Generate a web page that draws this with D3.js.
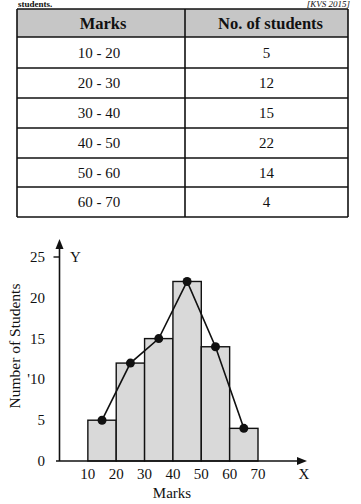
<!DOCTYPE html>
<html>
<head>
<meta charset="utf-8">
<script src="https://cdn.jsdelivr.net/npm/d3@7"></script>
<style>
  html, body { margin: 0; padding: 0; background: #fff; }
  svg { display: block; }
  text { font-family: "Liberation Serif", "DejaVu Serif", serif; fill: #111; }
</style>
</head>
<body>
<svg id="chart" width="361" height="504"></svg>
<script>
// ---- data ----
const classLabels = ["10 - 20", "20 - 30", "30 - 40", "40 - 50", "50 - 60", "60 - 70"];
const lowerLimits = [10, 20, 30, 40, 50, 60];
const upperLimits = [20, 30, 40, 50, 60, 70];
const students = [5, 12, 15, 22, 14, 4];
const tableHeaders = ["Marks", "No. of students"];
const xTickValues = [10, 20, 30, 40, 50, 60, 70];
const yTickValues = [0, 5, 10, 15, 20, 25];
const yTickLabels = ["0", "5", "'10", "15", "20", "25"];

const svg = d3.select("#chart");

// ---- top text (cut off in the source scan) ----
svg.append("text").attr("x", 18).attr("y", 7).attr("font-size", 9).attr("font-weight", "bold")
  .text("students.");
svg.append("text").attr("x", 350).attr("y", 7).attr("font-size", 9).attr("font-style", "italic")
  .attr("text-anchor", "end").text("[KVS 2015]");

// ---- table ----
const tX = d3.scaleLinear().domain([0, 1, 2]).range([17, 185, 348]);
const rowEdges = [9, 37, 68, 98, 128, 158, 187, 217];
const tY = d3.scaleLinear().domain(d3.range(rowEdges.length)).range(rowEdges);
const table = svg.append("g");

table.append("rect").attr("x", tX(0)).attr("y", tY(0)).attr("width", tX(2) - tX(0))
  .attr("height", tY(1) - tY(0)).attr("fill", "#c6c6c6");

table.selectAll("line.h").data(d3.range(rowEdges.length)).join("line")
  .attr("x1", tX(0)).attr("x2", tX(2)).attr("y1", i => tY(i)).attr("y2", i => tY(i))
  .attr("stroke", "#111").attr("stroke-width", 1.6);
table.selectAll("line.v").data([0, 1, 2]).join("line")
  .attr("x1", i => tX(i)).attr("x2", i => tX(i)).attr("y1", tY(0)).attr("y2", tY(rowEdges.length - 1))
  .attr("stroke", "#111").attr("stroke-width", 1.6);

const colMid = i => (tX(i) + tX(i + 1)) / 2;
table.selectAll("text.hdr").data(tableHeaders).join("text")
  .attr("x", (d, i) => colMid(i) + (i === 0 ? 2 : 4)).attr("y", (tY(0) + tY(1)) / 2 + 6)
  .attr("text-anchor", "middle").attr("font-size", 16.5).attr("font-weight", "bold").text(d => d);
table.selectAll("text.c1").data(classLabels).join("text")
  .attr("x", colMid(0) - 2).attr("y", (d, i) => (tY(i + 1) + tY(i + 2)) / 2 + 5)
  .attr("text-anchor", "middle").attr("font-size", 15).text(d => d);
table.selectAll("text.c2").data(students).join("text")
  .attr("x", colMid(1)).attr("y", (d, i) => (tY(i + 1) + tY(i + 2)) / 2 + 5)
  .attr("text-anchor", "middle").attr("font-size", 15).text(d => d);

// ---- histogram ----
const x = d3.scaleLinear().domain([0, 70]).range([59.5, 258]);
const y = d3.scaleLinear().domain([0, 25]).range([461, 257]);
const g = svg.append("g");

g.selectAll("rect.bar").data(students).join("rect")
  .attr("x", (d, i) => x(lowerLimits[i])).attr("y", d => y(d))
  .attr("width", (d, i) => x(upperLimits[i]) - x(lowerLimits[i]))
  .attr("height", d => y(0) - y(d))
  .attr("fill", "#d9d9d9").attr("stroke", "#111").attr("stroke-width", 1.4);

g.append("line").attr("x1", 56).attr("x2", 300).attr("y1", y(0)).attr("y2", y(0))
  .attr("stroke", "#111").attr("stroke-width", 1.6);
g.append("path").attr("d", `M307,${y(0)} L297,${y(0) - 4} L297,${y(0) + 4} Z`).attr("fill", "#111");
g.append("line").attr("x1", x(0)).attr("x2", x(0)).attr("y1", y(0)).attr("y2", 247)
  .attr("stroke", "#111").attr("stroke-width", 1.6);
g.append("path").attr("d", `M${x(0)},239 L${x(0) - 4},249 L${x(0) + 4},249 Z`).attr("fill", "#111");
g.append("line").attr("x1", x(0) - 6).attr("x2", x(0)).attr("y1", y(25)).attr("y2", y(25))
  .attr("stroke", "#111").attr("stroke-width", 1.4);

g.selectAll("text.yt").data(yTickValues).join("text")
  .attr("x", 45).attr("y", d => y(d) + 5).attr("text-anchor", "end")
  .attr("font-size", 15).text((d, i) => yTickLabels[i]);
g.selectAll("text.xt").data(xTickValues).join("text")
  .attr("x", d => x(d)).attr("y", 479).attr("text-anchor", "middle")
  .attr("font-size", 15).text(d => d);

g.append("text").attr("x", 70).attr("y", 262).attr("font-size", 15).text("Y");
g.append("text").attr("x", 304).attr("y", 479).attr("text-anchor", "middle").attr("font-size", 15).text("X");
g.append("text").attr("x", 172).attr("y", 498).attr("text-anchor", "middle").attr("font-size", 15).text("Marks");
g.append("text").attr("transform", `translate(20,${346}) rotate(-90)`).attr("text-anchor", "middle")
  .attr("font-size", 15.5).text("Number of Students");

const mids = lowerLimits.map((l, i) => (l + upperLimits[i]) / 2);
const pts = students.map((v, i) => [x(mids[i]), y(v)]);
g.append("path").attr("d", d3.line()(pts)).attr("fill", "none").attr("stroke", "#111").attr("stroke-width", 1.6);
g.selectAll("circle").data(pts).join("circle")
  .attr("cx", d => d[0]).attr("cy", d => d[1]).attr("r", 4.5).attr("fill", "#111");
</script>
</body>
</html>
